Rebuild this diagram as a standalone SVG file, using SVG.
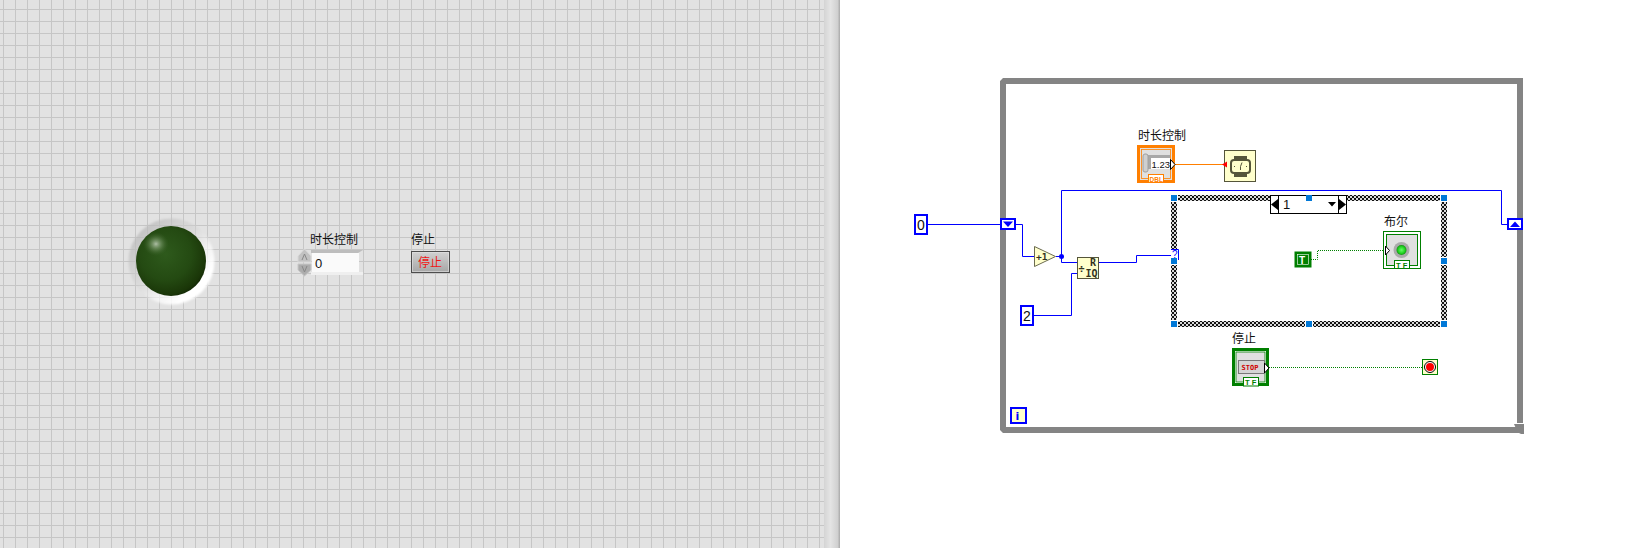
<svg xmlns="http://www.w3.org/2000/svg" width="1640" height="548" viewBox="0 0 1640 548">
<style>
text{font-family:"Noto Sans CJK SC","Liberation Sans",sans-serif;font-size:12px;fill:#111}
.num{font-family:"Liberation Sans",Arial,sans-serif;font-size:14px}
.w{fill:none;stroke:#0000ff;stroke-width:1}
.b{fill:none;stroke:#007f00;stroke-width:1;stroke-dasharray:1 1}
.k{fill:#fff;stroke:#0000ff;stroke-width:2}
.h{fill:url(#hatch)}
.q{fill:#0078d7}
.y{fill:#ffffcc;stroke:#55553a;stroke-width:1}
.f{font-family:"DejaVu Sans Mono","Liberation Mono",monospace;font-weight:700;font-size:9px;fill:#33331f}
.m{font-family:"Liberation Sans",Arial,sans-serif;font-size:7.500px;font-weight:700;fill:#007f00}
</style>
<defs>
<pattern id="grid" width="12" height="12" patternUnits="userSpaceOnUse" x="3" y="9">
<rect width="12" height="12" fill="#e2e2e2"/><rect width="1" height="12" fill="#c6c6c6"/><rect width="12" height="1" fill="#c6c6c6"/>
</pattern>
<pattern id="hatch" width="4" height="4" patternUnits="userSpaceOnUse">
<rect width="4" height="4" fill="#d8d8d8"/><rect width="2" height="2" fill="#111"/><rect x="2" y="2" width="2" height="2" fill="#111"/>
</pattern>
<linearGradient id="sb" x1="0" x2="1" y1="0" y2="0">
<stop offset="0" stop-color="#d4d4d4"/><stop offset=".4" stop-color="#e4e4e4"/><stop offset=".85" stop-color="#d0d0d0"/><stop offset="1" stop-color="#a8a8a8"/>
</linearGradient>
<radialGradient id="led" cx=".42" cy=".4" r=".68">
<stop offset="0" stop-color="#2e5a1c"/><stop offset=".55" stop-color="#244a12"/><stop offset=".85" stop-color="#1a3608"/><stop offset="1" stop-color="#0c1c03"/>
</radialGradient>
<radialGradient id="spec" cx=".5" cy=".5" r=".5">
<stop offset="0" stop-color="#b4c4ac" stop-opacity=".95"/><stop offset=".45" stop-color="#7b9a6c" stop-opacity=".55"/><stop offset="1" stop-color="#3a5f28" stop-opacity="0"/>
</radialGradient>
<linearGradient id="halo" x1="0.1" y1="0.1" x2=".9" y2=".9">
<stop offset="0" stop-color="#b4b4b4" stop-opacity=".75"/><stop offset=".45" stop-color="#d4d4d4" stop-opacity=".5"/><stop offset=".65" stop-color="#ffffff" stop-opacity=".55"/><stop offset=".85" stop-color="#ffffff"/>
</linearGradient>
<filter id="soft" x="-10%" y="-10%" width="120%" height="120%"><feGaussianBlur stdDeviation="1"/></filter>
<linearGradient id="btn" x1="0" x2="0" y1="0" y2="1">
<stop offset="0" stop-color="#d2d2d2"/><stop offset="1" stop-color="#a6a6a6"/>
</linearGradient>
<radialGradient id="gled" cx=".5" cy=".5" r=".5">
<stop offset="0" stop-color="#66ff66"/><stop offset=".7" stop-color="#1fd01f"/><stop offset="1" stop-color="#149014"/>
</radialGradient>
</defs>

<rect width="1640" height="548" fill="#fff"/>
<rect id="panel" width="824" height="548" fill="url(#grid)"/>
<rect id="scrollbar" x="824" width="16" height="548" fill="url(#sb)"/>

<g id="fp-led">
<circle cx="171.500" cy="261.500" r="43" fill="url(#halo)" filter="url(#soft)"/>
<circle cx="171" cy="261" r="35" fill="url(#led)"/>
<ellipse cx="156" cy="244" rx="13" ry="12" fill="url(#spec)"/>
</g>
<g id="fp-duration">
<text x="310" y="244">时长控制</text>
<path d="M311 250H363L358 253H311Z" fill="#bdbdbd"/>
<rect x="312" y="253" width="47" height="19" fill="#fafafa"/>
<rect x="311" y="272" width="52" height="3" fill="#efefef"/>
<path d="M304.500 249L311 256V262H298V256Z" fill="#c2c2c2" stroke="#d8d8d8"/>
<path d="M304.500 276L311 270V264H298V270Z" fill="#acacac" stroke="#c8c8c8"/>
<path d="M302 260L304.500 254L307 260M302 266L304.500 272L307 266" fill="none" stroke="#888"/>
<text class="num" x="315" y="268" style="font-size:13px">0</text>
</g>
<g id="fp-stop">
<text x="411" y="244">停止</text>
<rect x="411.500" y="251.500" width="38" height="21" fill="url(#btn)" stroke="#4d4d4d"/>
<rect x="412.500" y="252.500" width="36" height="19" fill="none" stroke="#e2e2e2" stroke-opacity=".6"/>
<text x="418" y="267" style="fill:#f01515">停止</text>
</g>

<g id="while-loop">
<path fill="#848484" d="M1003 78H1523V423H1517V84H1006V427H1517V431L1514 424H1524V434H1521L1519 433H1003L1000 430V81Z"/>
</g>

<g id="connectors">
<path class="w" d="M928 224.500H1000M1016 224.500H1022.500V256.500H1034M1056 256.500H1061.500V262.500H1077M1061.500 256.500V190.500H1501.500V224.500H1507"/>
<path class="w" d="M1034 315.500H1071.500V273.500H1077M1099 262.500H1136.500V255.500H1171"/>
<path d="M1175 164.500H1224" fill="none" stroke="#ff7f00"/>
<path class="b" d="M1311 259.500H1317.500V250.500H1385"/>
<path class="b" d="M1269 367.500H1422"/>
</g>

<g id="case-structure">
<rect class="h" x="1178" y="195" width="92" height="6"/>
<rect class="h" x="1347" y="195" width="93" height="6"/>
<rect class="h" x="1178" y="321" width="127" height="6"/>
<rect class="h" x="1313" y="321" width="127" height="6"/>
<rect class="h" x="1171" y="202" width="6" height="47"/>
<rect class="h" x="1171" y="265" width="6" height="55"/>
<rect class="h" x="1441" y="202" width="6" height="55"/>
<rect class="h" x="1441" y="265" width="6" height="55"/>
<g class="q">
<rect x="1171" y="195" width="6" height="6"/><rect x="1441" y="195" width="6" height="6"/>
<rect x="1171" y="321" width="6" height="6"/><rect x="1441" y="321" width="6" height="6"/>
<rect x="1306" y="321" width="6" height="6"/>
<rect x="1171" y="258" width="6" height="6"/><rect x="1441" y="258" width="6" height="6"/>
</g>
<rect x="1270.500" y="195.500" width="76" height="18" fill="#fff" stroke="#000"/>
<path d="M1278.500 196V213M1338.500 196V213" stroke="#000"/>
<path d="M1271 204.500L1278 199V210ZM1346 204.500L1339 199V210ZM1328 202H1336L1332 206.500Z" fill="#000"/>
<text class="num" x="1283" y="209" style="font-size:13px">1</text>
<rect class="q" x="1306" y="195" width="6" height="6"/>
<rect x="1171" y="250" width="7" height="8" fill="#fff"/>
<path d="M1171 249.500H1178.500V260" fill="none" stroke="#0000ff"/>
<text class="num" x="1172" y="258" style="font-size:10px;fill:#0000ff">?</text>
</g>

<g id="const-0"><rect class="k" x="915" y="215" width="12" height="19"/><text class="num" x="917" y="230">0</text></g>
<g id="const-2"><rect class="k" x="1021" y="306" width="12" height="19"/><text class="num" x="1023" y="321">2</text></g>
<g id="shift-left"><rect class="k" x="1001" y="219" width="14" height="10"/><path d="M1003 221.500H1013L1008 227Z" fill="#0000ff"/></g>
<g id="shift-right"><rect class="k" x="1508" y="219" width="14" height="10"/><path d="M1510 227H1520L1515 221.500Z" fill="#0000ff"/></g>
<g id="increment"><path d="M1034.500 246.500L1055.500 256.500L1034.500 266.500Z" fill="#ffffcc" stroke="#6b6b4f"/><text class="f" x="1036" y="260" style="font-size:9.500px">+1</text></g>
<circle id="junction" cx="1061.500" cy="256.500" r="2.500" fill="#0000ff"/>
<g id="quotient"><rect class="y" x="1077.500" y="257.500" width="21" height="21"/>
<text class="f" x="1090" y="266" style="font-size:10px">R</text>
<text class="f" x="1085.500" y="277" style="font-size:10px">IQ</text>
<text class="f" x="1078.500" y="272" style="font-size:10px">÷</text></g>

<g id="duration-terminal">
<text x="1138" y="140">时长控制</text>
<rect x="1138.500" y="146.500" width="35" height="35" fill="#e0e0e0" stroke="#ff7f00" stroke-width="3"/>
<rect x="1141.500" y="149.500" width="29" height="29" fill="#e0e0e0" stroke="#ff7f00" stroke-width=".8"/>
<rect x="1146" y="155" width="24" height="14" fill="#a8a8a8"/>
<rect x="1143" y="154" width="5" height="18" rx="2" fill="#cfcfcf" stroke="#a0a0a0"/>
<rect x="1151" y="158" width="19" height="11" fill="#fff"/>
<text class="num" x="1151.500" y="168" style="font-size:9.500px">1.23</text>
<path d="M1170.500 159.500L1175 164.500L1170.500 169.500Z" fill="#fff" stroke="#000"/>
<rect x="1148.500" y="174.500" width="15" height="8" fill="#fff" stroke="#ff7f00"/>
<text class="m" x="1149.500" y="181.500" style="font-size:6.500px;fill:#ff7f00">DBL</text>
</g>
<g id="wait-ms"><rect class="y" x="1224.500" y="150.500" width="31" height="31"/>
<path d="M1222 164.500L1227 161.500V167.500Z" fill="#f00"/>
<path d="M1234 156H1247V161H1234ZM1234 172H1247V177H1234Z" fill="#55553a"/>
<rect x="1231" y="160" width="19" height="13" rx="3" fill="#ffffcc" stroke="#55553a" stroke-width="2"/>
<path d="M1240.500 166.500L1242 162.500M1240.500 166.500V170M1234 166.500H1235M1246 166.500H1247" stroke="#55553a"/></g>

<g id="true-const"><rect x="1295.500" y="252.500" width="15" height="14" fill="#007f00" stroke="#007f00" stroke-width="2"/>
<rect x="1297.500" y="254.500" width="11" height="10" fill="none" stroke="#fff" stroke-width=".6"/>
<text class="num" x="1299" y="264" style="font-size:10px;font-weight:700;fill:#fff">T</text></g>
<g id="bool-terminal">
<text x="1384" y="226">布尔</text>
<rect x="1383.500" y="231.500" width="37" height="37" fill="#fff" stroke="#007f00"/>
<rect x="1386.500" y="234.500" width="31" height="31" fill="#e0e0e0" stroke="#007f00"/>
<circle cx="1401.500" cy="250" r="8" fill="#aaa"/><circle cx="1401.500" cy="250" r="5" fill="url(#gled)"/>
<path d="M1385.500 246L1389.500 250.500L1385.500 255Z" fill="#fff" stroke="#000"/>
<rect x="1394.500" y="260.500" width="15" height="8" fill="#fff" stroke="#007f00"/>
<text class="m" x="1396" y="267.500">T F</text>
</g>
<g id="stop-terminal">
<text x="1232" y="343">停止</text>
<rect x="1233.500" y="349.500" width="34" height="35" fill="#fff" stroke="#007f00" stroke-width="3"/>
<rect x="1236" y="352" width="29" height="30" fill="#e0e0e0" stroke="#007f00" stroke-width=".8"/>
<rect x="1238.500" y="360.500" width="26" height="13" fill="#d4d4d4" stroke="#777"/>
<text class="f" x="1241.500" y="370" style="font-size:7px;fill:#d00000">STOP</text>
<path d="M1264.500 363L1269 368L1264.500 373Z" fill="#fff" stroke="#000"/>
<rect x="1243.500" y="377.500" width="15" height="8.500" fill="#fff" stroke="#007f00"/>
<text class="m" x="1245" y="385">T F</text>
</g>
<g id="loop-condition"><rect x="1422.500" y="359.500" width="15" height="15" fill="#ffffcc" stroke="#007f00"/>
<circle cx="1430" cy="367" r="5.500" fill="#fff" stroke="#000"/><circle cx="1430" cy="367" r="4" fill="#f00"/></g>
<g id="iteration"><rect x="1011" y="408" width="15" height="15" fill="#ffffcc" stroke="#0000ff" stroke-width="2"/>
<text x="1015.500" y="420" style="font:700 11px 'DejaVu Sans',sans-serif;fill:#0000ff">i</text></g>
</svg>
